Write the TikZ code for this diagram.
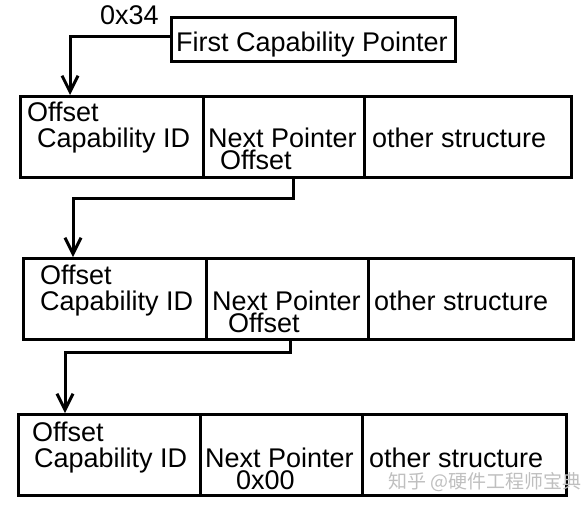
\documentclass[tikz,border=0pt]{standalone}
\usepackage{fontspec}
\setmainfont{Liberation Sans}
\newfontfamily\cjkfont{Noto Sans CJK SC}
\usetikzlibrary{arrows.meta}
\begin{document}
\begin{tikzpicture}[x=1pt,y=-1pt,
  cell/.style={draw,line width=3pt,inner sep=0pt,anchor=north west},
  lbl/.style={inner sep=0pt,anchor=base west,font=\fontsize{27}{30}\selectfont},
  link/.style={line width=3pt,-{Straight Barb[length=16pt,width=16pt,line width=3pt]}}]
\useasboundingbox (0,0) rectangle (582,506);
% top box
\node[cell,minimum width=284pt,minimum height=44pt] (fcp) at (170,16) {};
\node[lbl] (fcpt) at (176,51) {First Capability Pointer};
\node[lbl] (o34) at (100,24) {0x34};
% row 1
\node[cell,minimum width=183pt,minimum height=81pt] (r1a) at (19,95) {};
\node[cell,minimum width=161pt,minimum height=81pt] (r1b) at (202,95) {};
\node[cell,minimum width=207pt,minimum height=81pt] (r1c) at (363,95) {};
\node[lbl] (r1o) at (27,121) {Offset};
\node[lbl] (r1id) at (37,147) {Capability ID};
\node[lbl] (r1np) at (208,147) {Next Pointer};
\node[lbl] (r1no) at (220,169) {Offset};
\node[lbl] (r1os) at (372,147) {other structure};
% row 2
\node[cell,minimum width=183pt,minimum height=81pt] (r2a) at (22,257) {};
\node[cell,minimum width=162pt,minimum height=81pt] (r2b) at (205,257) {};
\node[cell,minimum width=205pt,minimum height=81pt] (r2c) at (367,257) {};
\node[lbl] (r2o) at (40,284) {Offset};
\node[lbl] (r2id) at (40,310) {Capability ID};
\node[lbl] (r2np) at (212,310) {Next Pointer};
\node[lbl] (r2no) at (228,332) {Offset};
\node[lbl] (r2os) at (374,310) {other structure};
% row 3
\node[cell,minimum width=182pt,minimum height=81pt] (r3a) at (17,413) {};
\node[cell,minimum width=162pt,minimum height=81pt] (r3b) at (199,413) {};
\node[cell,minimum width=204pt,minimum height=81pt] (r3c) at (361,413) {};
\node[lbl] (r3o) at (32,441) {Offset};
\node[lbl] (r3id) at (34,467) {Capability ID};
\node[lbl] (r3np) at (205,467) {Next Pointer};
\node[lbl] (r3no) at (236,489) {0x00};
\node[lbl] (r3os) at (369,467) {other structure};
% watermark
\node[inner sep=0pt,anchor=base west,text=black!25,font=\cjkfont\fontsize{19}{21}\selectfont] (wm) at (388,488) {知乎 @硬件工程师宝典};
% connectors
\coordinate (c1) at (70,36);
\draw[link] (fcp.west |- c1) -- (c1) -- (c1 |- r1a.north);
\coordinate (c2a) at (293,176);
\coordinate (c2b) at (73,198);
\draw[link] (c2a |- r1b.south) -- (c2a |- c2b) -- (c2b) -- (c2b |- r2a.north);
\coordinate (c3a) at (290,338);
\coordinate (c3b) at (65,352);
\draw[link] (c3a |- r2b.south) -- (c3a |- c3b) -- (c3b) -- (c3b |- r3a.north);
\end{tikzpicture}
\end{document}
